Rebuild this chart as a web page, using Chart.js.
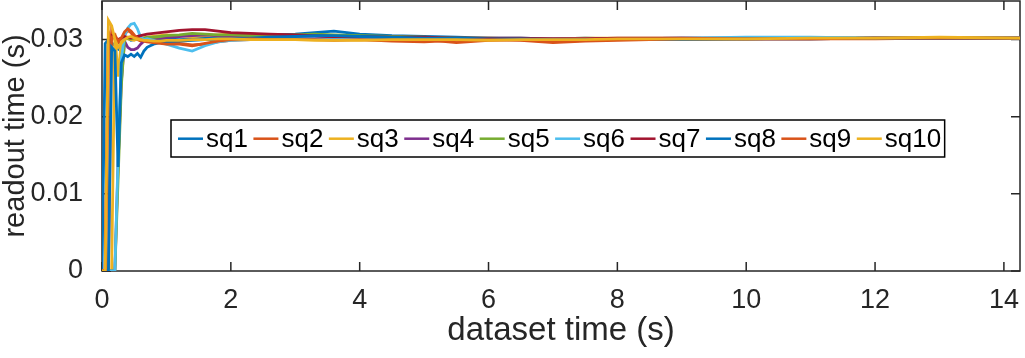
<!DOCTYPE html>
<html><head><meta charset="utf-8">
<script src="https://cdn.jsdelivr.net/npm/chart.js@4.4.1/dist/chart.umd.min.js"></script>
<style>html,body{margin:0;padding:0;background:#fff}#wrap{width:1025px;height:358px;position:relative}</style>
</head><body><div id="wrap"><canvas id="c"></canvas></div>
<script>
// ---- data ----
const timeS = [0, 0.05, 0.1, 0.15, 0.2, 0.25, 0.3, 0.35, 0.4, 0.45, 0.5, 0.55, 0.6, 0.65, 0.7, 0.8, 0.9, 1.0, 1.2, 1.4, 1.6, 1.8, 2.0, 2.3, 2.6, 3.0, 3.3, 3.6, 4.0, 4.5, 5.0, 5.5, 6.0, 6.5, 7.0, 7.5, 8.0, 9.0, 10.0, 11.0, 12.0, 13.0, 14.25];
const sq1 = [0, 0.0295, 0.0300, 0.0296, 0.0292, 0.0288, 0.0296, 0.0300, 0.0302, 0.0299, 0.0300, 0.0301, 0.0299, 0.0300, 0.0301, 0.0300, 0.0301, 0.0301, 0.0300, 0.0301, 0.0302, 0.0303, 0.0304, 0.0305, 0.0306, 0.0307, 0.0309, 0.0311, 0.0307, 0.0305, 0.0304, 0.0303, 0.0302, 0.0302, 0.0301, 0.0302, 0.0301, 0.0301, 0.0301, 0.0302, 0.0302, 0.0302, 0.0302];
const sq2 = [0, 0, 0, 0.0312, 0.0303, 0.0296, 0.0300, 0.0306, 0.0312, 0.0309, 0.0303, 0.0300, 0.0298, 0.0299, 0.0300, 0.0299, 0.0297, 0.0296, 0.0295, 0.0293, 0.0294, 0.0297, 0.0299, 0.0300, 0.0301, 0.0300, 0.0300, 0.0301, 0.0300, 0.0299, 0.0300, 0.0296, 0.0299, 0.0300, 0.0297, 0.0299, 0.0300, 0.0300, 0.0301, 0.0301, 0.0301, 0.0302, 0.0302];
const sq3 = [0, 0, 0, 0, 0.0308, 0.0252, 0.0298, 0.0303, 0.0301, 0.0300, 0.0299, 0.0301, 0.0300, 0.0302, 0.0303, 0.0304, 0.0305, 0.0306, 0.0305, 0.0304, 0.0305, 0.0306, 0.0307, 0.0307, 0.0306, 0.0305, 0.0304, 0.0303, 0.0303, 0.0302, 0.0302, 0.0301, 0.0301, 0.0300, 0.0301, 0.0302, 0.0302, 0.0302, 0.0302, 0.0302, 0.0302, 0.0302, 0.0302];
const sq4 = [0, 0, 0, 0, 0, 0.0140, 0.0245, 0.0298, 0.0290, 0.0287, 0.0287, 0.0289, 0.0294, 0.0298, 0.0300, 0.0301, 0.0302, 0.0303, 0.0304, 0.0305, 0.0306, 0.0305, 0.0304, 0.0303, 0.0302, 0.0302, 0.0303, 0.0303, 0.0302, 0.0301, 0.0301, 0.0301, 0.0300, 0.0300, 0.0301, 0.0301, 0.0301, 0.0302, 0.0302, 0.0302, 0.0302, 0.0302, 0.0302];
const sq5 = [0, 0, 0, 0, 0, 0.0120, 0.0240, 0.0300, 0.0302, 0.0301, 0.0302, 0.0303, 0.0302, 0.0302, 0.0303, 0.0303, 0.0304, 0.0305, 0.0306, 0.0308, 0.0307, 0.0306, 0.0306, 0.0305, 0.0305, 0.0306, 0.0307, 0.0306, 0.0305, 0.0304, 0.0303, 0.0302, 0.0302, 0.0301, 0.0300, 0.0300, 0.0301, 0.0301, 0.0301, 0.0302, 0.0302, 0.0302, 0.0302];
const sq6 = [0, 0, 0, 0, 0, 0.0150, 0.0275, 0.0305, 0.0315, 0.0320, 0.0321, 0.0314, 0.0303, 0.0300, 0.0301, 0.0299, 0.0296, 0.0294, 0.0289, 0.0285, 0.0292, 0.0297, 0.0299, 0.0300, 0.0300, 0.0301, 0.0301, 0.0300, 0.0301, 0.0301, 0.0301, 0.0300, 0.0300, 0.0301, 0.0300, 0.0300, 0.0301, 0.0302, 0.0303, 0.0303, 0.0302, 0.0302, 0.0302];
const sq7 = [0, 0, 0.0300, 0.0305, 0.0302, 0.0300, 0.0302, 0.0304, 0.0303, 0.0302, 0.0303, 0.0304, 0.0305, 0.0306, 0.0307, 0.0308, 0.0309, 0.0310, 0.0312, 0.0313, 0.0313, 0.0311, 0.0309, 0.0308, 0.0307, 0.0306, 0.0305, 0.0304, 0.0304, 0.0303, 0.0303, 0.0302, 0.0302, 0.0302, 0.0301, 0.0301, 0.0302, 0.0302, 0.0301, 0.0301, 0.0302, 0.0302, 0.0302];
const sq8 = [0, 0, 0, 0.0290, 0.0285, 0.0135, 0.0270, 0.0280, 0.0278, 0.0281, 0.0278, 0.0282, 0.0277, 0.0285, 0.0290, 0.0294, 0.0296, 0.0297, 0.0298, 0.0299, 0.0300, 0.0300, 0.0301, 0.0302, 0.0303, 0.0304, 0.0305, 0.0305, 0.0304, 0.0303, 0.0302, 0.0302, 0.0301, 0.0301, 0.0300, 0.0300, 0.0300, 0.0300, 0.0301, 0.0301, 0.0302, 0.0302, 0.0302];
const sq9 = [0, 0, 0.0310, 0.0300, 0.0306, 0.0298, 0.0302, 0.0310, 0.0314, 0.0311, 0.0306, 0.0302, 0.0300, 0.0298, 0.0297, 0.0296, 0.0295, 0.0294, 0.0294, 0.0292, 0.0295, 0.0298, 0.0300, 0.0301, 0.0300, 0.0300, 0.0300, 0.0299, 0.0300, 0.0298, 0.0297, 0.0299, 0.0300, 0.0299, 0.0296, 0.0298, 0.0299, 0.0301, 0.0301, 0.0301, 0.0302, 0.0302, 0.0302];
const sq10 = [0, 0, 0.0325, 0.0318, 0.0300, 0.0290, 0.0295, 0.0300, 0.0303, 0.0304, 0.0302, 0.0301, 0.0300, 0.0299, 0.0299, 0.0298, 0.0298, 0.0299, 0.0299, 0.0300, 0.0300, 0.0301, 0.0301, 0.0300, 0.0300, 0.0300, 0.0299, 0.0299, 0.0299, 0.0300, 0.0300, 0.0300, 0.0299, 0.0300, 0.0300, 0.0300, 0.0301, 0.0301, 0.0301, 0.0302, 0.0302, 0.0303, 0.0302];
const seriesLabels = ['sq1', 'sq2', 'sq3', 'sq4', 'sq5', 'sq6', 'sq7', 'sq8', 'sq9', 'sq10'];
const seriesColors = ['#0072BD', '#D95319', '#EDB120', '#7E2F8E', '#77AC30', '#4DBEEE', '#A2142F', '#0072BD', '#D95319', '#EDB120'];
const xTickValues = [0, 2, 4, 6, 8, 10, 12, 14];
const yTickValues = [0, 0.01, 0.02, 0.03];
const xAxisTitle = 'dataset time (s)';
const yAxisTitle = 'readout time (s)';
const xRange = [0, 14.25];
const yRange = [0, 0.035];

// ---- chart ----
const allSeries = [sq1, sq2, sq3, sq4, sq5, sq6, sq7, sq8, sq9, sq10];
const FONT = "'Liberation Sans', Arial, sans-serif";
const AX = '#262626';

const datasets = allSeries.map((vals, i) => ({
  label: seriesLabels[i],
  data: vals.map((v, k) => ({ x: timeS[k], y: v })),
  borderColor: seriesColors[i],
  backgroundColor: seriesColors[i],
  borderWidth: 2.8,
  pointRadius: 0,
  tension: 0,
  fill: false,
  order: allSeries.length - i
}));

const boxPlugin = {
  id: 'axesBox',
  beforeDatasetsDraw(chart) {
    const { ctx, chartArea: a, scales: { x, y } } = chart;
    ctx.save();
    ctx.strokeStyle = AX;
    ctx.lineWidth = 1.5;
    ctx.strokeRect(a.left, a.top, a.right - a.left, a.bottom - a.top);
    const L = 9;
    ctx.beginPath();
    xTickValues.forEach(v => {
      const px = x.getPixelForValue(v);
      ctx.moveTo(px, a.bottom); ctx.lineTo(px, a.bottom - L);
      ctx.moveTo(px, a.top); ctx.lineTo(px, a.top + L);
    });
    yTickValues.forEach(v => {
      const py = y.getPixelForValue(v);
      ctx.moveTo(a.left, py); ctx.lineTo(a.left + L, py);
      ctx.moveTo(a.right, py); ctx.lineTo(a.right - L, py);
    });
    ctx.stroke();
    ctx.restore();
  }
};

const legendPlugin = {
  id: 'inLegend',
  afterDatasetsDraw(chart) {
    const { ctx, chartArea: a } = chart;
    const ds = chart.data.datasets;
    ctx.save();
    ctx.font = "26px " + FONT;
    const lineLen = 25, gapLT = 3, gapItem = 5.5, padL = 7, padR = 3.5, h = 37;
    const widths = ds.map(d => ctx.measureText(d.label).width);
    let total = padL + padR;
    widths.forEach((w, i) => { total += lineLen + gapLT + w + (i < ds.length - 1 ? gapItem : 0); });
    const cx = a.left + 0.497 * (a.right - a.left);
    const cy = a.top + 0.51 * (a.bottom - a.top);
    const left = Math.round(cx - total / 2), top = Math.round(cy - h / 2);
    ctx.fillStyle = '#fff';
    ctx.fillRect(left, top, total, h);
    ctx.strokeStyle = '#000';
    ctx.lineWidth = 1.5;
    ctx.strokeRect(left, top, total, h);
    let xx = left + padL;
    ctx.textBaseline = 'middle';
    ctx.textAlign = 'left';
    ds.forEach((d, i) => {
      ctx.strokeStyle = d.borderColor;
      ctx.lineWidth = 2.5;
      ctx.beginPath();
      ctx.moveTo(xx, cy); ctx.lineTo(xx + lineLen, cy);
      ctx.stroke();
      xx += lineLen + gapLT;
      ctx.fillStyle = '#000';
      ctx.fillText(d.label, xx, cy + 1);
      xx += widths[i] + gapItem;
    });
    ctx.restore();
  }
};

function noPad(s) { s.paddingTop = 0; s.paddingBottom = 0; s.paddingLeft = 0; s.paddingRight = 0; }

new Chart(document.getElementById('c'), {
  type: 'line',
  data: { datasets },
  options: {
    responsive: true,
    maintainAspectRatio: false,
    animation: false,
    devicePixelRatio: 1,
    layout: { padding: { left: 0, right: 5, top: 1, bottom: 0 } },
    plugins: { legend: { display: false }, tooltip: { enabled: false } },
    scales: {
      x: {
        type: 'linear',
        min: xRange[0], max: xRange[1],
        grid: { display: false },
        border: { display: false },
        afterBuildTicks: s => { s.ticks = xTickValues.map(v => ({ value: v })); },
        afterFit: s => { s.height = 87; noPad(s); },
        ticks: { color: AX, font: { family: FONT, size: 27 }, padding: 5, maxRotation: 0, callback: v => String(v) },
        title: { display: true, text: xAxisTitle, color: AX, font: { family: FONT, size: 33 }, padding: { top: 0, bottom: 7 } }
      },
      y: {
        type: 'linear',
        min: yRange[0], max: yRange[1],
        grid: { display: false },
        border: { display: false },
        afterBuildTicks: s => { s.ticks = yTickValues.map(v => ({ value: v })); },
        afterFit: s => { s.width = 102; noPad(s); },
        ticks: { color: AX, font: { family: FONT, size: 27 }, padding: 11, callback: v => (v === 0 ? '0' : v.toFixed(2)) },
        title: { display: true, text: yAxisTitle, color: AX, font: { family: FONT, size: 29 }, padding: { top: -1, bottom: 0 } }
      }
    }
  },
  plugins: [boxPlugin, legendPlugin]
});
</script>
</body></html>
